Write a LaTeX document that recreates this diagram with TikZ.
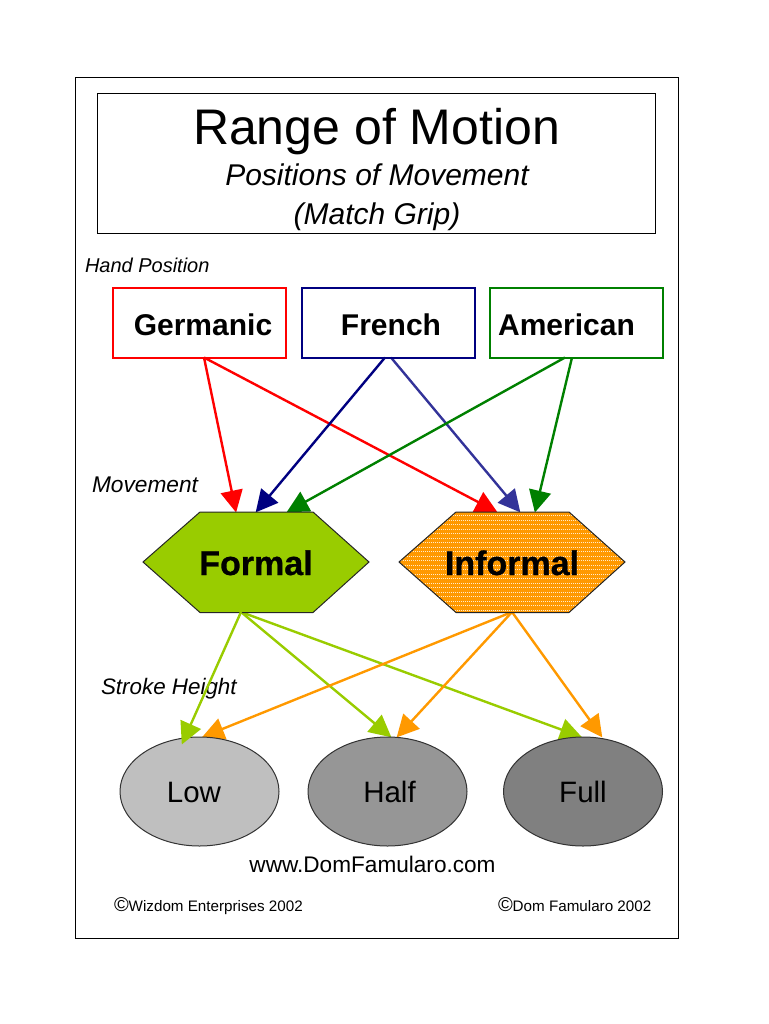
\documentclass[tikz,border=0pt]{standalone}
\usepackage{fontspec}
\setmainfont{Liberation Sans}
\newfontfamily\heavyfont[FakeBold=0.8]{Liberation Sans Bold}
\usetikzlibrary{arrows.meta,shapes.geometric,backgrounds}
\definecolor{gred}{HTML}{FF0000}
\definecolor{fnavy}{HTML}{000080}
\definecolor{fblue}{HTML}{333399}
\definecolor{agreen}{HTML}{008000}
\definecolor{lime}{HTML}{99CC00}
\definecolor{amber}{HTML}{FF9900}
\newcommand{\fsz}[1]{\fontsize{#1}{#1}\selectfont}
\tikzset{
  x=1pt,y=-1pt,
  every node/.style={inner sep=0pt,outer sep=0pt},
  handbox/.style={draw,line width=2pt,rectangle,minimum width=173pt,minimum height=70pt,font=\fsz{30}\bfseries,text height=25pt,text depth=-7pt},
  hexline/.style={draw=black!85,line width=1pt},
  hexa/.style={rectangle,minimum width=226pt,minimum height=100pt,font=\fsz{34}\heavyfont,text height=26pt,text depth=-2pt},
  height/.style={draw=black!80,line width=1pt,ellipse,minimum width=159pt,minimum height=109pt,font=\fsz{29.5},text height=22pt,text depth=1pt},
  lab/.style={font=\fsz{#1}\itshape,anchor=base west},
  link/.style={line width=2.4pt,-{Triangle[length=22pt,width=22pt]},shorten >=-0.5pt},
  copyr/.style={font=\fsz{15},anchor=base west},
}
\begin{document}
\begin{tikzpicture}
\useasboundingbox (0,0) rectangle (768,1024);
\node[draw,line width=1pt,minimum width=603pt,minimum height=860pt] (frame) at (377,508) {};
\node[draw,line width=1pt,minimum width=558pt,minimum height=140pt] (titlebox) at (376.5,163.5) {};
\node[font=\fsz{50}] (title) at (376.5,132) {Range of Motion};
\node[font=\fsz{30}\itshape] (sub1) at (377,175) {Positions of Movement};
\node[font=\fsz{30}\itshape] (sub2) at (377,217) {(Match Grip)};
\node[lab=20] (lhand) at (85,272) {Hand Position};
\node[lab=22.7] (lmove) at (92,492) {Movement};
\node[lab=22.4] (lstroke) at (101,694) {Stroke Height};
\node[handbox,draw=gred] (germanic) at (199.5,322.5) {\hspace*{7pt}Germanic};
\node[handbox,draw=fnavy] (french) at (388,322.5) {\hspace*{6pt}French};
\node[handbox,draw=agreen] (american) at (576,322.5) {American\hspace*{19pt}};
\draw[hexline,fill=lime] (143,562) -- (200,512) -- (313,512) -- (369,562) -- (313,612.5) -- (200,612.5) -- cycle;
\begin{scope}
  \clip (399,562) -- (456,512) -- (569,512) -- (625,562) -- (569,612.5) -- (456,612.5) -- cycle;
  \fill[amber] (399,512) rectangle (625,613);
  \foreach \r in {1,...,22}{
    \draw[white!80!amber,line width=.7pt,dash pattern=on .7pt off 1.3pt]
      (399,{512+4.5*\r-1}) -- (626,{512+4.5*\r-1});
  }
\end{scope}
\draw[hexline] (399,562) -- (456,512) -- (569,512) -- (625,562) -- (569,612.5) -- (456,612.5) -- cycle;
\node[hexa] (formal) at (256,562) {Formal};
\node[hexa] (informal) at (512,562) {Informal};
\node[height,fill=black!25] (low) at (199.5,791.5) {Low\hspace*{11pt}};
\node[height,fill=black!41] (half) at (387.5,791.5) {\hspace*{4pt}Half};
\node[height,fill=black!50] (full) at (583,791.5) {Full};
\node[font=\fsz{22.6}] (web) at (372.5,864) {www.DomFamularo.com};
\node[copyr] (c1) at (114,911) {\fsz{20}©\fsz{15.2}Wizdom Enterprises 2002};
\node[copyr] (c2) at (498,911) {\fsz{20}©\fsz{15.2}Dom Famularo 2002};
\begin{pgfonlayer}{background}
  \draw[link,gred] ([xshift=4.5pt]germanic.south) -- ([xshift=-20pt]formal.north);
  \draw[link,gred] ([xshift=4.5pt]germanic.south) -- ([xshift=-15pt]informal.north);
  \draw[link,fnavy] ([xshift=-3pt]french.south) -- (formal.north);
  \draw[link,fblue] ([xshift=3pt]french.south) -- ([xshift=8pt]informal.north);
  \draw[link,agreen] ([xshift=-11pt]american.south) -- ([xshift=31pt]formal.north);
  \draw[link,agreen] ([xshift=-4pt]american.south) -- ([xshift=23pt]informal.north);
  \draw[link,lime] ([xshift=-15pt]formal.south) -- ([xshift=3.5pt]half.north);
  \draw[link,lime] ([xshift=-15pt]formal.south) -- ([xshift=-1.5pt]full.north);
  \draw[link,amber] (informal.south) -- ([xshift=3pt]low.north);
  \draw[link,amber] (informal.south) -- ([xshift=9.5pt]half.north);
  \draw[link,amber] (informal.south) -- ([xshift=19pt]full.north);
\end{pgfonlayer}
\draw[link,lime] ([xshift=-15pt]formal.south) -- ([xshift=-17.5pt,yshift=-7pt]low.north);
\end{tikzpicture}
\end{document}
